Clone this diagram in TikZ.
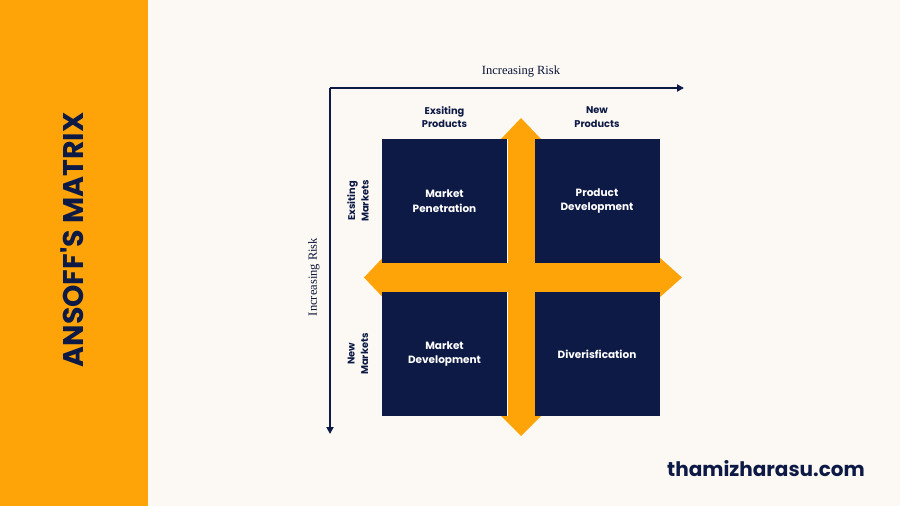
\documentclass[tikz,border=0pt]{standalone}
\usepackage{fontspec}
\setmainfont{Liberation Serif}
\newfontfamily\popp{Poppins}
\usetikzlibrary{arrows.meta}
\definecolor{bgc}{HTML}{FCF8F4}
\definecolor{orng}{HTML}{FEA408}
\definecolor{navy}{HTML}{0D1A45}
\tikzset{
  quad/.style={fill=navy, minimum width=125pt, minimum height=124pt, inner sep=0pt, text=white, font=\popp\bfseries\fontsize{10.5}{14.5}\selectfont, align=center},
  hdr/.style={text=navy, font=\popp\bfseries\fontsize{9.8}{13.5}\selectfont, align=center, inner sep=0pt},
  axislbl/.style={text=navy!80!black, font=\fontsize{12.5}{14}\selectfont, inner sep=0pt},
  axis/.style={draw=navy, line width=1.8pt, -{Triangle[length=7pt,width=7pt]}}
}
\begin{document}
\begin{tikzpicture}[x=1pt,y=-1pt]
\useasboundingbox (0,0) rectangle (900,506);
\fill[bgc] (0,0) rectangle (900,506);
\fill[orng] (0,0) rectangle (148,506);
\node[rotate=90, text=navy, font=\popp\bfseries\fontsize{28.5}{32}\selectfont] (title) at (72,240) {ANSOFF'S MATRIX};
% axes
\coordinate (o) at (330,88);
\coordinate (xe) at (684,88);
\coordinate (ye) at (330,434);
\draw[axis] (o) -- (xe);
\draw[axis] (o) -- (ye);
\node[axislbl] (xl) at (521,72) {Increasing Risk};
\node[axislbl, rotate=90] (yl) at (314,277) {Increasing Risk};
% orange cross
\fill[orng] (507.5,136) rectangle (534.5,420);
\fill[orng] (380,263) rectangle (662,292);
\fill[orng] (521,118) -- (541,139) -- (501,139) -- cycle;
\fill[orng] (521,436) -- (541,416) -- (501,416) -- cycle;
\fill[orng] (364,277.5) -- (383,257.5) -- (383,297.5) -- cycle;
\fill[orng] (682,277.5) -- (659,257) -- (659,298) -- cycle;
% quadrants
\node[quad] (q1) at (444.5,201) {Market\\Penetration};
\node[quad] (q2) at (597,201) {Product\\Development};
\node[quad] (q3) at (444.5,354) {Market\\Development};
\node[quad] (q4) at (597,354) {Diverisfication};
% headers
\node[hdr] (h1) at (444.5,117) {Exsiting\\Products};
\node[hdr] (h2) at (597,117) {New\\Products};
\node[hdr, rotate=90] (r1) at (358,201) {Exsiting\\Markets};
\node[hdr, rotate=90] (r2) at (358,354) {New\\Markets};
% url
\node[text=navy, font=\popp\bfseries\fontsize{20}{24}\selectfont, inner sep=0pt] (url) at (766,469) {thamizharasu.com};
\end{tikzpicture}
\end{document}
